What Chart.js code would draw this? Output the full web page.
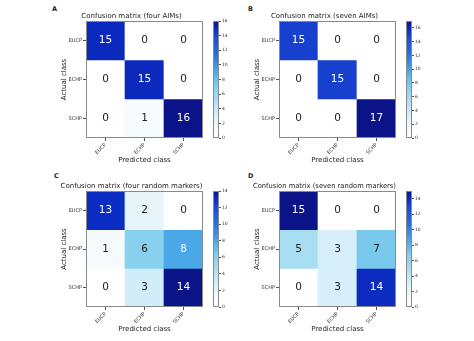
<!DOCTYPE html>
<html>
<head>
<meta charset="utf-8">
<script src="https://cdn.jsdelivr.net/npm/chart.js@4.4.1/dist/chart.umd.min.js"></script>
<style>
  html, body { margin: 0; padding: 0; background: #fff; }
  body { width: 474px; height: 341px; position: relative; overflow: hidden; }
  canvas { position: absolute; }
  .tag { position: absolute; font: bold 6.5px "DejaVu Sans", sans-serif; line-height: 1; color: #222; }
</style>
</head>
<body>
<div class="tag" style="left:52px;top:6px">A</div>
<div class="tag" style="left:248px;top:6px">B</div>
<div class="tag" style="left:54px;top:173px">C</div>
<div class="tag" style="left:248px;top:173px">D</div>
<canvas id="mA"></canvas><canvas id="cA"></canvas>
<canvas id="mB"></canvas><canvas id="cB"></canvas>
<canvas id="mC"></canvas><canvas id="cC"></canvas>
<canvas id="mD"></canvas><canvas id="cD"></canvas>
<script>
// Class names shared by both axes (rows = actual, columns = predicted)
const classLabels = ['EUCP', 'ECHP', 'SCHP'];

// Panel titles
const titleFourAims = 'Confusion matrix (four AIMs)';
const titleSevenAims = 'Confusion matrix (seven AIMs)';
const titleFourRandom = 'Confusion matrix (four random markers)';
const titleSevenRandom = 'Confusion matrix (seven random markers)';

// Counts per cell, one inner array per actual class
const matrixFourAims = [[15, 0, 0], [0, 15, 0], [0, 1, 16]];
const matrixSevenAims = [[15, 0, 0], [0, 15, 0], [0, 0, 17]];
const matrixFourRandom = [[13, 2, 0], [1, 6, 8], [0, 3, 14]];
const matrixSevenRandom = [[15, 0, 0], [5, 3, 7], [0, 3, 14]];

const xAxisTitle = 'Predicted class';
const yAxisTitle = 'Actual class';

const FONT = '"DejaVu Sans", sans-serif';
const TEXT = '#222';
const FRAME = '#8a8a8a';

// White -> cyan -> blue -> navy colour ramp
const rampStops = [
  [0.00, [255, 255, 255]],
  [0.12, [238, 248, 252]],
  [0.20, [214, 239, 250]],
  [0.33, [168, 222, 242]],
  [0.45, [128, 206, 238]],
  [0.57, [74, 168, 232]],
  [0.72, [40, 110, 222]],
  [0.86, [28, 74, 212]],
  [0.93, [12, 44, 196]],
  [1.00, [10, 20, 136]]
];
function ramp(t) {
  t = Math.max(0, Math.min(1, t));
  for (let i = 1; i < rampStops.length; i++) {
    const [t1, c1] = rampStops[i];
    const [t0, c0] = rampStops[i - 1];
    if (t <= t1) {
      const f = (t - t0) / (t1 - t0);
      const c = c0.map((v, k) => Math.round(v + (c1[k] - v) * f));
      return `rgb(${c[0]},${c[1]},${c[2]})`;
    }
  }
  const c = rampStops[rampStops.length - 1][1];
  return `rgb(${c[0]},${c[1]},${c[2]})`;
}

// Frame around the plotting area plus the count printed in each cell
const matrixDecor = {
  id: 'matrixDecor',
  afterDatasetsDraw(chart) {
    const { ctx, chartArea: a, scales: { x, y } } = chart;
    const vmax = chart.options.vmax;
    ctx.save();
    ctx.font = `10.5px ${FONT}`;
    ctx.textAlign = 'center';
    ctx.textBaseline = 'middle';
    chart.data.datasets.forEach((ds, i) => {
      ds.counts.forEach((v, j) => {
        ctx.fillStyle = v > vmax / 2 ? '#fff' : TEXT;
        ctx.fillText(String(v), x.getPixelForValue(j), y.getPixelForValue(i + 0.5));
      });
    });
    ctx.strokeStyle = FRAME;
    ctx.lineWidth = 1;
    ctx.strokeRect(Math.round(a.left) + 0.5, Math.round(a.top) + 0.5,
      Math.round(a.right - a.left) - 1, Math.round(a.bottom - a.top) - 1);
    ctx.restore();
  }
};

const frameOnly = {
  id: 'frameOnly',
  afterDatasetsDraw(chart) {
    const { ctx, chartArea: a } = chart;
    ctx.save();
    ctx.strokeStyle = FRAME;
    ctx.lineWidth = 1;
    ctx.strokeRect(Math.round(a.left) + 0.5, Math.round(a.top) + 0.5,
      Math.round(a.right - a.left) - 1, Math.round(a.bottom - a.top) - 1);
    ctx.restore();
  }
};

function sizeCanvas(cv, left, top, w, h) {
  cv.width = w; cv.height = h;
  cv.style.left = left + 'px'; cv.style.top = top + 'px';
  cv.style.width = w + 'px'; cv.style.height = h + 'px';
}

function makeMatrix(id, title, matrix, area) {
  const vmax = Math.max(...matrix.flat());
  const PAD_L = 30, AX_Y = 26, TITLE_H = 16, AX_X = 26, PAD_R = 56;
  const cv = document.getElementById(id);
  sizeCanvas(cv, area.l - PAD_L - AX_Y, area.t - TITLE_H,
    (area.r - area.l) + PAD_L + AX_Y + PAD_R, TITLE_H + (area.b - area.t) + AX_X);
  new Chart(cv, {
    type: 'bar',
    data: {
      labels: classLabels,
      datasets: matrix.map((row, i) => ({
        data: row.map(() => [i, i + 1]),
        counts: row,
        backgroundColor: row.map(v => ramp(v / vmax)),
        grouped: false,
        categoryPercentage: 1,
        barPercentage: 1,
        borderWidth: 0
      }))
    },
    options: {
      vmax,
      responsive: false,
      animation: false,
      events: [],
      layout: { padding: { left: PAD_L, right: PAD_R, top: 0, bottom: 0 } },
      plugins: {
        legend: { display: false },
        tooltip: { enabled: false },
        title: {
          display: true, text: title, color: TEXT,
          font: { family: FONT, size: 7, weight: 'normal', lineHeight: 1.2 },
          padding: { top: 6.6, bottom: 1 }
        }
      },
      scales: {
        x: {
          type: 'category',
          offset: true,
          grid: { offset: false, drawOnChartArea: false, drawTicks: true, tickLength: 3, color: '#555' },
          border: { display: false },
          ticks: { minRotation: 45, maxRotation: 45, padding: 1, color: '#333', font: { family: FONT, size: 5 } },
          title: { display: true, text: xAxisTitle, color: TEXT, padding: 0, font: { family: FONT, size: 7, lineHeight: 1.2 } },
          afterFit: s => { s.height = AX_X; }
        },
        y: {
          type: 'linear',
          min: 0, max: 3, reverse: true,
          afterBuildTicks: s => { s.ticks = classLabels.map((_, i) => ({ value: i + 0.5 })); },
          grid: { drawOnChartArea: false, drawTicks: true, tickLength: 3, color: '#555' },
          border: { display: false },
          ticks: {
            padding: 1, color: '#333', font: { family: FONT, size: 5 },
            callback: v => classLabels[Math.floor(v)]
          },
          title: { display: true, text: yAxisTitle, color: TEXT, padding: 0, font: { family: FONT, size: 7, lineHeight: 1.2 } },
          afterFit: s => { s.width = AX_Y; }
        }
      }
    },
    plugins: [matrixDecor]
  });
}

function makeColorbar(id, matrix, area) {
  const vmax = Math.max(...matrix.flat());
  const PAD = 6, AXW = 24;
  const cv = document.getElementById(id);
  sizeCanvas(cv, area.l, area.t - PAD, (area.r - area.l) + AXW, (area.b - area.t) + 2 * PAD);
  new Chart(cv, {
    type: 'bar',
    data: {
      labels: [''],
      datasets: [{
        data: [[0, vmax]],
        backgroundColor: (c) => {
          const chart = c.chart;
          if (!chart.chartArea) return '#fff';
          const ys = chart.scales.y;
          const g = chart.ctx.createLinearGradient(0, ys.getPixelForValue(0), 0, ys.getPixelForValue(vmax));
          rampStops.forEach(([t]) => g.addColorStop(t, ramp(t)));
          return g;
        },
        categoryPercentage: 1,
        barPercentage: 1,
        borderWidth: 0
      }]
    },
    options: {
      responsive: false,
      animation: false,
      events: [],
      layout: { padding: { left: 0, right: 0, top: PAD, bottom: PAD } },
      plugins: { legend: { display: false }, tooltip: { enabled: false }, title: { display: false } },
      scales: {
        x: { display: false },
        y: {
          position: 'right', min: 0, max: vmax,
          grid: { drawOnChartArea: false, drawTicks: true, tickLength: 2, color: '#555' },
          border: { display: false },
          ticks: { stepSize: 2, includeBounds: false, padding: 1, color: '#333', font: { family: FONT, size: 4.5 } },
          afterFit: s => { s.width = AXW; }
        }
      }
    },
    plugins: [frameOnly]
  });
}

makeMatrix('mA', titleFourAims, matrixFourAims, { l: 86, r: 203, t: 21, b: 138 });
makeColorbar('cA', matrixFourAims, { l: 213, r: 219, t: 21, b: 138 });
makeMatrix('mB', titleSevenAims, matrixSevenAims, { l: 279, r: 396, t: 21, b: 138 });
makeColorbar('cB', matrixSevenAims, { l: 406, r: 412, t: 21, b: 138 });
makeMatrix('mC', titleFourRandom, matrixFourRandom, { l: 86, r: 203, t: 191, b: 307 });
makeColorbar('cC', matrixFourRandom, { l: 213, r: 219, t: 191, b: 307 });
makeMatrix('mD', titleSevenRandom, matrixSevenRandom, { l: 279, r: 396, t: 191, b: 307 });
makeColorbar('cD', matrixSevenRandom, { l: 406, r: 412, t: 191, b: 307 });
</script>
</body>
</html>
